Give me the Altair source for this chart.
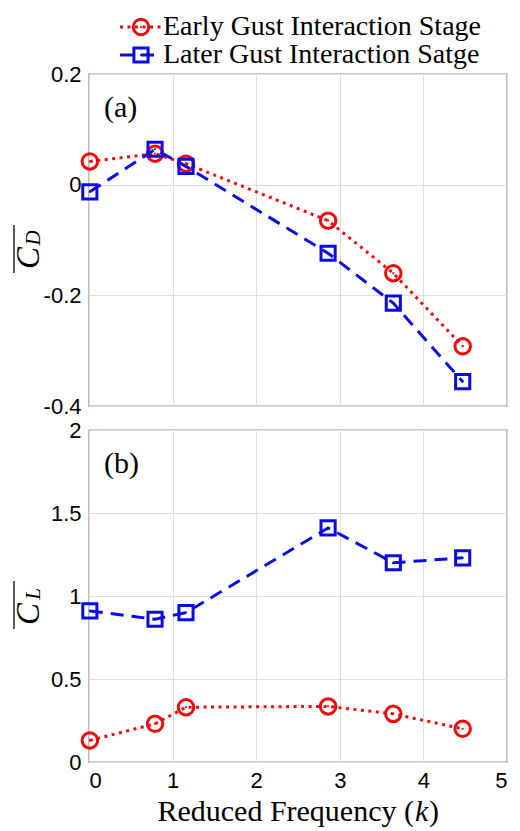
import pandas as pd
import altair as alt

# reduced frequency for each case
k = [0.01, 0.79, 1.16, 2.86, 3.64, 4.47]

# mean drag / lift coefficients
cd_early = [0.042, 0.056, 0.038, -0.065, -0.160, -0.292]
cd_later = [-0.013, 0.064, 0.033, -0.124, -0.214, -0.356]
cl_early = [0.13, 0.23, 0.33, 0.335, 0.29, 0.20]
cl_later = [0.91, 0.86, 0.90, 1.41, 1.20, 1.23]

series = ["Early Gust Interaction Stage", "Later Gust Interaction Satge"]
panel_labels = ["(a)", "(b)"]
cd_ticks = [-0.4, -0.2, 0, 0.2]
cl_ticks = [0, 0.5, 1, 1.5, 2]
k_ticks = [0, 1, 2, 3, 4, 5]
x_title = ["Reduced Frequency (", "k", ")"]

RED = "#ee0a0a"
BLUE = "#0a0ae6"
colors = [RED, BLUE]
dashes = [[3, 4.5], [13, 8]]
shapes = ["circle", "square"]
sizes = [240, 200]

SERIF = "Liberation Serif"
SANS = "Liberation Sans"
W, H = 418, 332


def long_df(early, later):
    return pd.DataFrame({
        "k": k + k,
        "value": early + later,
        "series": [series[0]] * len(k) + [series[1]] * len(k),
    })


def txt(s, **kw):
    return alt.Chart(pd.DataFrame({"t": [s]})).mark_text(color="black", **kw).encode(text="t:N")


def y_title(sub, mid):
    c = txt("C", font=SERIF, fontStyle="italic", fontSize=33, angle=270,
            align="center", baseline="alphabetic").encode(x=alt.value(-50), y=alt.value(mid + 15))
    d = txt(sub, font=SERIF, fontStyle="italic", fontSize=21, angle=270,
            align="center", baseline="alphabetic").encode(x=alt.value(-49), y=alt.value(mid - 5))
    bar = alt.Chart(pd.DataFrame({"t": [0]})).mark_rule(
        color="black", strokeWidth=1.3
    ).encode(x=alt.value(-75), y=alt.value(mid - 18), y2=alt.value(mid + 30))
    return c + d + bar


def k_title():
    # "Reduced Frequency (k)" with an italic k, split at the k
    cx = W / 2 + 116
    yy = H + 50
    a = txt(x_title[0], font=SERIF, fontSize=30, align="right", baseline="middle").encode(
        x=alt.value(cx), y=alt.value(yy))
    b = txt(x_title[1], font=SERIF, fontStyle="italic", fontSize=30, align="left",
            baseline="middle").encode(x=alt.value(cx + 1), y=alt.value(yy))
    c = txt(x_title[2], font=SERIF, fontSize=30, align="left", baseline="middle").encode(
        x=alt.value(cx + 15), y=alt.value(yy))
    return a + b + c


def panel(early, later, domain, ticks, label, sub, show_x, neg_fmt):
    df = long_df(early, later)
    x = alt.X("k:Q", scale=alt.Scale(domain=[0, 5], nice=False),
              axis=alt.Axis(values=k_ticks, labels=show_x, title=None, format="~g"))
    if neg_fmt:
        lab = "datum.value == 0 ? '0' : (datum.value < 0 ? '-' + format(-datum.value, '~g') : format(datum.value, '~g'))"
    else:
        lab = "format(datum.value, '~g')"
    y = alt.Y("value:Q", scale=alt.Scale(domain=domain, nice=False),
              axis=alt.Axis(values=ticks, title=None, labelExpr=lab))
    color = alt.Color("series:N", scale=alt.Scale(domain=series, range=colors), legend=None)
    base = alt.Chart(df).encode(x=x, y=y, color=color)

    lines = base.mark_line(strokeWidth=3).encode(
        strokeDash=alt.StrokeDash("series:N", scale=alt.Scale(domain=series, range=dashes), legend=None)
    )
    marks = base.mark_point(filled=False, strokeWidth=3, opacity=1).encode(
        shape=alt.Shape("series:N", scale=alt.Scale(domain=series, range=shapes), legend=None),
        size=alt.Size("series:N", scale=alt.Scale(domain=series, range=sizes), legend=None)
    )
    dots = base.mark_point(filled=True, size=5, opacity=1)
    tag = txt(label, font=SERIF, fontSize=30, align="left", baseline="middle").encode(
        x=alt.value(15), y=alt.value(34))
    out = lines + marks + dots + tag + y_title(sub, H / 2 + 3)
    if show_x:
        out = out + k_title()
    return out


def legend():
    layers = []
    for i, name in enumerate(series):
        yy = -47 + 28 * i
        d = pd.DataFrame({"t": [name]})
        seg = alt.Chart(d).mark_rule(color=colors[i], strokeWidth=3, strokeDash=dashes[i]).encode(
            x=alt.value(31), x2=alt.value(72), y=alt.value(yy))
        sym = alt.Chart(d).mark_point(shape=shapes[i], filled=False, strokeWidth=3, size=sizes[i],
                                      color=colors[i], opacity=1).encode(
            x=alt.value(52), y=alt.value(yy))
        dot = alt.Chart(d).mark_point(filled=True, size=5, color=colors[i], opacity=1).encode(
            x=alt.value(52), y=alt.value(yy))
        lab = txt(name, font=SERIF, fontSize=28, align="left", baseline="middle").encode(
            x=alt.value(74), y=alt.value(yy))
        layers += [seg, sym, dot, lab]
    return alt.layer(*layers)


top = alt.layer(
    panel(cd_early, cd_later, [-0.4, 0.2], cd_ticks, panel_labels[0], "D", False, True),
    legend()
).properties(width=W, height=H)

bottom = panel(cl_early, cl_later, [0, 2], cl_ticks, panel_labels[1], "L", True, False).properties(
    width=W, height=H)

chart = alt.vconcat(top, bottom, spacing=0).properties(
    padding={"left": 4, "top": 4, "right": 0, "bottom": 0}
).configure_view(
    stroke="#262626", strokeWidth=1.2
).configure_axis(
    grid=True, gridColor="#dedede", gridWidth=1,
    domain=False, ticks=False,
    labelFont=SANS, labelFontSize=22, labelColor="black", labelPadding=8
)

chart.save("out.html", embed_options={"renderer": "svg", "actions": False})
